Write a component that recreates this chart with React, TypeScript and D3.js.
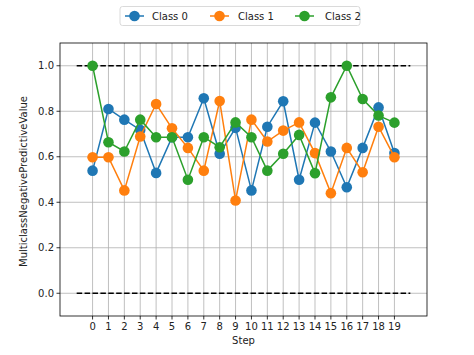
import React from "react";
import * as d3 from "d3";

const steps = d3.range(0, 20);
const class0 = [0.539, 0.81, 0.763, 0.718, 0.529, 0.686, 0.686, 0.857, 0.613, 0.727, 0.452, 0.732, 0.844, 0.499, 0.75, 0.623, 0.466, 0.639, 0.817, 0.616];
const class1 = [0.598, 0.598, 0.452, 0.689, 0.832, 0.725, 0.639, 0.539, 0.845, 0.408, 0.763, 0.667, 0.715, 0.751, 0.616, 0.44, 0.639, 0.532, 0.732, 0.598];
const class2 = [1.0, 0.664, 0.623, 0.763, 0.686, 0.686, 0.499, 0.686, 0.642, 0.751, 0.686, 0.539, 0.613, 0.696, 0.528, 0.861, 1.0, 0.854, 0.781, 0.75];
const seriesNames = ["Class 0", "Class 1", "Class 2"];
const seriesColors = ["#1f77b4", "#ff7f0e", "#2ca02c"];
const yTicks = [0.0, 0.2, 0.4, 0.6, 0.8, 1.0];
const refLines = [0, 1];
const refExtent = [-1, 20];

export default function App() {
  const W = 474, H = 355;
  const left = 60, right = 427, top = 43, bottom = 316;
  const x = d3.scaleLinear().domain([-2.05, 21.05]).range([left, right]);
  const y = d3.scaleLinear().domain([-0.1, 1.1]).range([bottom, top]);
  const data = [class0, class1, class2];
  const line = d3.line<number>().x((_, i) => x(steps[i])).y((d) => y(d));
  const font = "DejaVu Sans, sans-serif";

  const legendItems = [
    { lx: 125, tx: 152 },
    { lx: 210, tx: 238 },
    { lx: 295, tx: 325 },
  ];

  return (
    <svg width={W} height={H} style={{ position: "absolute", left: 0, top: 0 }} fontFamily={font}>
      <rect width={W} height={H} fill="white" />
      {/* grid */}
      {steps.map((s) => (
        <line key={"gx" + s} x1={x(s)} x2={x(s)} y1={top} y2={bottom} stroke="#b0b0b0" strokeWidth={0.8} />
      ))}
      {yTicks.map((t) => (
        <line key={"gy" + t} x1={left} x2={right} y1={y(t)} y2={y(t)} stroke="#b0b0b0" strokeWidth={0.8} />
      ))}
      {/* reference dashed lines */}
      {refLines.map((v) => (
        <line key={"r" + v} x1={x(refExtent[0])} x2={x(refExtent[1])} y1={y(v)} y2={y(v)} stroke="black" strokeWidth={1.5} strokeDasharray="5.5,2.4" />
      ))}
      {/* series */}
      {data.map((vals, si) => (
        <g key={"s" + si}>
          <path d={line(vals) || ""} fill="none" stroke={seriesColors[si]} strokeWidth={1.5} />
          {vals.map((v, i) => (
            <circle key={i} cx={x(steps[i])} cy={y(v)} r={5.3} fill={seriesColors[si]} />
          ))}
        </g>
      ))}
      {/* spines */}
      <rect x={left} y={top} width={right - left} height={bottom - top} fill="none" stroke="black" strokeWidth={0.8} />
      {/* x ticks */}
      {steps.map((s) => (
        <g key={"xt" + s}>
          <line x1={x(s)} x2={x(s)} y1={bottom} y2={bottom + 3.5} stroke="black" strokeWidth={0.8} />
          <text x={x(s)} y={bottom + 14} textAnchor="middle" fontSize={10} fill="#222">{s}</text>
        </g>
      ))}
      {/* y ticks */}
      {yTicks.map((t) => (
        <g key={"yt" + t}>
          <line x1={left - 3.5} x2={left} y1={y(t)} y2={y(t)} stroke="black" strokeWidth={0.8} />
          <text x={left - 6} y={y(t) + 3.5} textAnchor="end" fontSize={10} fill="#222">{t.toFixed(1)}</text>
        </g>
      ))}
      <text x={(left + right) / 2} y={344} textAnchor="middle" fontSize={10} fill="#222">Step</text>
      <text transform={`translate(27,${(top + bottom) / 2 + 2}) rotate(-90)`} textAnchor="middle" fontSize={10} fill="#222">MulticlassNegativePredictiveValue</text>
      {/* legend */}
      <rect x={120} y={6.5} width={240} height={19} rx={2.5} fill="white" stroke="#d0d0d0" strokeWidth={0.8} />
      {legendItems.map((it, i) => (
        <g key={"lg" + i}>
          <line x1={it.lx} x2={it.lx + 19} y1={16} y2={16} stroke={seriesColors[i]} strokeWidth={1.5} />
          <circle cx={it.lx + 9.5} cy={16} r={5.3} fill={seriesColors[i]} />
          <text x={it.tx} y={19.5} fontSize={10} fill="#222">{seriesNames[i]}</text>
        </g>
      ))}
    </svg>
  );
}
